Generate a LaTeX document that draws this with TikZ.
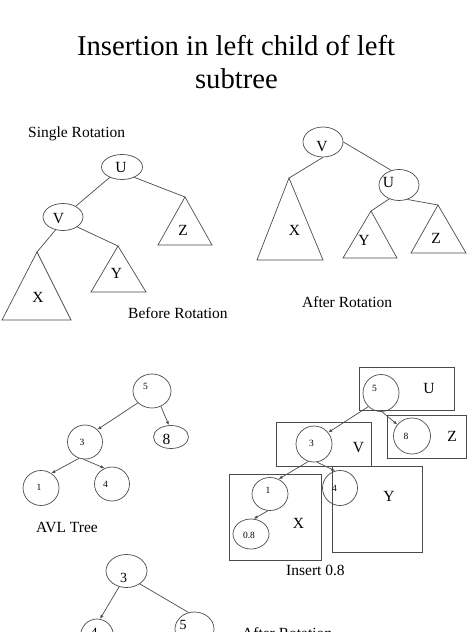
\documentclass[tikz,border=0pt]{standalone}
\usepackage{fontspec}
\setmainfont{Liberation Serif}
\usetikzlibrary{arrows.meta,shapes.geometric}

\definecolor{linegray}{RGB}{75,75,75}

\begin{document}
\begin{tikzpicture}[x=1pt, y=-1pt, >={Latex[length=4pt,width=3.2pt]},
  every node/.style={inner sep=0pt},
  txt/.style={font=\fontsize{15.5}{18}\selectfont},
  num/.style={font=\fontsize{9.5}{11}\selectfont},
  bub/.style 2 args={ellipse, draw=linegray, line width=0.7pt,
    minimum width=#1pt, minimum height=#2pt},
  edge/.style={draw=linegray, line width=0.7pt},
  box/.style={draw=linegray, line width=0.8pt}]
  \useasboundingbox (0,0) rectangle (474,632);
  \clip (0,0) rectangle (474,632);

  % Title
  \node[font=\fontsize{28.7}{33}\selectfont, anchor=base] (title1) at (236,55)
    {Insertion in left child of left};
  \node[font=\fontsize{28.7}{33}\selectfont, anchor=base] (title2) at (236.5,88)
    {subtree};

  % Before rotation
  \node[txt, anchor=base west] (single) at (28,137) {Single Rotation};
  \node[bub={41}{25}] (bU) at (122,167) {};
  \node[txt] (bUt) at (121,167.5) {U};
  \node[bub={40}{27}] (bV) at (63,217) {};
  \node[txt] (bVt) at (58.5,218.5) {V};
  \coordinate (bXa) at (37,252);
  \coordinate (bYa) at (118,246);
  \coordinate (bZa) at (185,197);
  \draw[edge] (bXa) -- (2,320) -- (71,320) -- cycle;
  \draw[edge] (bYa) -- (91,292) -- (146,292) -- cycle;
  \draw[edge] (bZa) -- (158,245) -- (212,245) -- cycle;
  \node[txt] (bXt) at (38,297.5) {X};
  \node[txt] (bYt) at (116.5,273.5) {Y};
  \node[txt] (bZt) at (183,230.5) {Z};
  \draw[edge] (bU) -- (bV);
  \draw[edge] (bU.320) -- (bZa);
  \draw[edge] (bV.240) -- (bXa);
  \draw[edge] (bV.325) -- (bYa);
  \node[txt, anchor=base west] (before) at (128,318) {Before Rotation};

  % After rotation
  \node[bub={40}{30}] (aV) at (323,142) {};
  \node[txt] (aVt) at (322,147) {V};
  \node[bub={40}{31}] (aU) at (399,185) {};
  \node[txt] (aUt) at (388.5,182.5) {U};
  \coordinate (aXa) at (289,178);
  \coordinate (aYa) at (371,211);
  \coordinate (aZa) at (438,205);
  \draw[edge] (aXa) -- (257,260) -- (323,260) -- cycle;
  \draw[edge] (aYa) -- (343,258) -- (397,258) -- cycle;
  \draw[edge] (aZa) -- (411,253) -- (466,253) -- cycle;
  \node[txt] (aXt) at (294.5,230.5) {X};
  \node[txt] (aYt) at (364,240) {Y};
  \node[txt] (aZt) at (436,238) {Z};
  \draw[edge] (aV.south) -- (aXa);
  \draw[edge] (aV.east) -- (aU.118);
  \draw[edge] (aU.235) -- (aYa);
  \draw[edge] (aU.300) -- (aZa);
  \node[txt, anchor=base west] (after) at (302,307) {After Rotation};

  % AVL tree
  \node[bub={38}{34}] (t5) at (152,391) {};
  \node[num] (t5t) at (145.5,386) {5};
  \node[bub={35}{34}] (t3) at (85,442) {};
  \node[num] (t3t) at (82,442.5) {3};
  \node[bub={35}{23}] (t8) at (171,437) {};
  \node[txt] (t8t) at (166.5,439.5) {8};
  \node[bub={36}{35}] (t1) at (41,488) {};
  \node[num] (t1t) at (39,487.5) {1};
  \node[bub={35}{34}] (t4) at (112,484) {};
  \node[num] (t4t) at (105.5,484) {4};
  \draw[edge,->] (t5.220) -- (t3.45);
  \draw[edge,->] (t5.300) -- (t8.100);
  \draw[edge,->] (t3.250) -- (t1.55);
  \draw[edge,->] (t3.265) -- (t4.115);
  \node[txt, anchor=base west] (avl) at (36,532) {AVL Tree};

  % Insert 0.8
  \draw[box] (359,367) rectangle (454,410);
  \draw[box] (387,415) rectangle (466,458);
  \draw[box] (276,422) rectangle (371,466);
  \draw[box] (332,466) rectangle (422,552);
  \draw[box] (229,474) rectangle (321,560);
  \node[bub={36}{37}] (i5) at (381,393) {};
  \node[num] (i5t) at (374.5,388.5) {5};
  \node[bub={37}{36}] (i8) at (412,436) {};
  \node[num] (i8t) at (406,436.5) {8};
  \node[bub={36}{36}] (i3) at (314,444) {};
  \node[num] (i3t) at (311.5,443) {3};
  \node[bub={35}{35}] (i4) at (340,488) {};
  \node[num] (i4t) at (334.5,488.5) {4};
  \node[bub={36}{33}] (i1) at (270,494) {};
  \node[num] (i1t) at (268,490) {1};
  \node[bub={36}{30}] (i08) at (251,534) {};
  \node[num] (i08t) at (249,535.5) {0.8};
  \node[txt] (iUt) at (429,388) {U};
  \node[txt] (iZt) at (452,436) {Z};
  \node[txt] (iVt) at (358.5,448) {V};
  \node[txt] (iYt) at (389,496.5) {Y};
  \node[txt] (iXt) at (298.5,523) {X};
  \draw[edge,->] (i5.227) -- (i3.39);
  \draw[edge,->] (i5.273) -- (i8.142);
  \draw[edge,->] (i3.252) -- (i1.60);
  \draw[edge,->] (i3.279) -- (i4.106);
  \draw[edge,->] (i1.263) -- (i08.80);
  \node[txt, anchor=base west] (insert) at (286,575) {Insert 0.8};

  % After rotation (cut off at the bottom)
  \node[bub={41}{33}] (f3) at (126.5,571) {};
  \node[font=\fontsize{14}{16}\selectfont] (f3t) at (123.5,577.5) {3};
  \node[bub={33}{34}] (f4) at (97,636) {};
  \node[font=\fontsize{14}{16}\selectfont] (f4t) at (94,633) {4};
  \node[bub={39}{34}] (f5) at (194.5,629) {};
  \node[font=\fontsize{14}{16}\selectfont] (f5t) at (183,624.5) {5};
  \draw[edge,->] (f3.245) -- (f4.80);
  \draw[edge] (f3.316) -- (f5.110);
  \node[txt, anchor=base west] (after2) at (242,638.5) {After Rotation};
\end{tikzpicture}
\end{document}
